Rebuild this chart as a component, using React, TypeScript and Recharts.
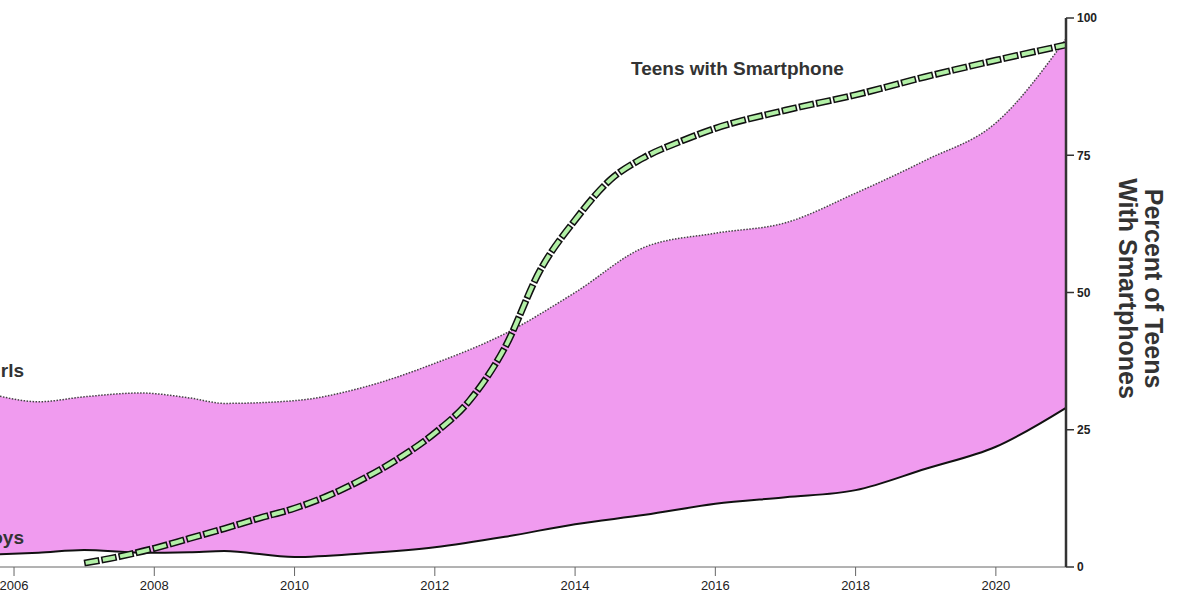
import { ComposedChart, Area, Line, XAxis, YAxis } from "recharts";

// x positions (years) where the gender lines were read
const genderYears = [
  2005.8, 2006.35, 2007, 2007.8, 2008.5, 2009, 2010, 2011, 2012, 2013, 2014, 2015, 2016, 2017, 2018,
  2019, 2020, 2021,
];
const girls = [
  31.1, 30.1, 31.0, 31.7, 30.8, 29.8, 30.3, 32.8, 37.1, 42.5, 50.0, 58.3, 60.8, 62.7, 68.1, 74.1,
  80.9, 96.2,
];
const boys = [
  2.3, 2.6, 3.1, 2.6, 2.7, 2.9, 1.8, 2.5, 3.6, 5.5, 7.8, 9.5, 11.5, 12.7, 14.0, 17.9, 21.9, 29.0,
];

// teens with smartphone
const phoneYears = [
  2007, 2007.5, 2008, 2008.5, 2009, 2009.5, 2010, 2010.5, 2011, 2011.5, 2012, 2012.5, 2013, 2013.5,
  2014, 2014.5, 2015, 2015.5, 2016, 2017, 2018, 2019, 2020, 2021,
];
const smartphone = [
  0.7, 1.9, 3.4, 5.2, 7.0, 8.9, 10.7, 13.1, 16.2, 19.9, 24.4, 30.4, 40.0, 54.0, 63.2, 70.5, 74.7,
  77.5, 79.9, 83.2, 86.0, 89.3, 92.3, 95.1,
];

const xTicks = [2006, 2008, 2010, 2012, 2014, 2016, 2018, 2020];
const yTicks = [0, 25, 50, 75, 100];

type Row = { year: number; girls?: number; boys?: number; phone?: number };

const rows: Row[] = (() => {
  const map = new Map<number, Row>();
  genderYears.forEach((y, i) => {
    map.set(y, { ...(map.get(y) || { year: y }), girls: girls[i], boys: boys[i] });
  });
  phoneYears.forEach((y, i) => {
    map.set(y, { ...(map.get(y) || { year: y }), phone: smartphone[i] });
  });
  return Array.from(map.values()).sort((a, b) => a.year - b.year);
})();

const FONT = "'Liberation Sans', Arial, Helvetica, sans-serif";
const PINK = "#f09bef";
const GREEN = "#b2f0a6";

function AxisTitle(props: any) {
  const vb = props.viewBox || {};
  const cy = (vb.y ?? 18) + (vb.height ?? 549) / 2 - 4;
  const x0 = vb.x ?? 1066;
  const style = { fontFamily: FONT, fontWeight: 700, fontSize: 25, fill: "#333" };
  return (
    <g>
      <text transform={`translate(${x0 + 79}, ${cy}) rotate(90)`} textAnchor="middle" style={style}>
        Percent of Teens
      </text>
      <text transform={`translate(${x0 + 53}, ${cy}) rotate(90)`} textAnchor="middle" style={style}>
        With Smartphones
      </text>
    </g>
  );
}

export default function App() {
  const labelStyle = { fontFamily: FONT, fontWeight: 700, fontSize: 19, fill: "#333" };
  return (
    <div style={{ position: "absolute", left: 0, top: 0, width: 1200, height: 600, overflow: "hidden", background: "#fff" }}>
      <ComposedChart width={1200} height={600} data={rows} margin={{ top: 18, right: 1, bottom: 0, left: 0 }}>
        <XAxis
          dataKey="year"
          type="number"
          scale="linear"
          domain={[2005.8, 2021]}
          ticks={xTicks}
          height={33}
          tickSize={9}
          tickMargin={5}
          stroke="#666"
          tick={{ fill: "#222", fontSize: 13, fontFamily: FONT }}
        />
        <YAxis
          orientation="right"
          domain={[0, 100]}
          ticks={yTicks}
          width={133}
          tickSize={8}
          tickMargin={3}
          axisLine={{ stroke: "#333", strokeWidth: 2.5 }}
          tickLine={{ stroke: "#333", strokeWidth: 1.5 }}
          tick={{ fill: "#222", fontSize: 12, fontWeight: 700, fontFamily: FONT }}
          label={<AxisTitle />}
        />
        <Area
          type="monotone"
          dataKey={(d: Row) => (d.girls == null ? null : [d.boys, d.girls])}
          stroke="none"
          fill={PINK}
          fillOpacity={1}
          connectNulls
          dot={false}
          activeDot={false}
          isAnimationActive={false}
        />
        <Line
          type="monotone"
          dataKey="girls"
          stroke="#444"
          strokeWidth={1.5}
          strokeDasharray="1.5 1.5"
          connectNulls
          dot={false}
          activeDot={false}
          isAnimationActive={false}
        />
        <Line
          type="monotone"
          dataKey="boys"
          stroke="#111"
          strokeWidth={2}
          connectNulls
          dot={false}
          activeDot={false}
          isAnimationActive={false}
        />
        <Line
          type="monotone"
          dataKey="phone"
          stroke="#111"
          strokeWidth={7}
          strokeDasharray="15.5 2"
          connectNulls
          dot={false}
          activeDot={false}
          isAnimationActive={false}
        />
        <Line
          type="monotone"
          dataKey="phone"
          stroke={GREEN}
          strokeWidth={4}
          strokeDasharray="12.5 5"
          strokeDashoffset={-1.5}
          connectNulls
          dot={false}
          activeDot={false}
          isAnimationActive={false}
        />
      </ComposedChart>
      {/* series labels drawn on top of the filled area */}
      <svg
        width={1200}
        height={600}
        style={{ position: "absolute", left: 0, top: 0, pointerEvents: "none" }}
      >
        <text x={631} y={75} style={labelStyle}>
          Teens with Smartphone
        </text>
        <text x={24} y={377} textAnchor="end" style={labelStyle}>
          Girls
        </text>
        <text x={24} y={544} textAnchor="end" style={labelStyle}>
          Boys
        </text>
      </svg>
    </div>
  );
}
